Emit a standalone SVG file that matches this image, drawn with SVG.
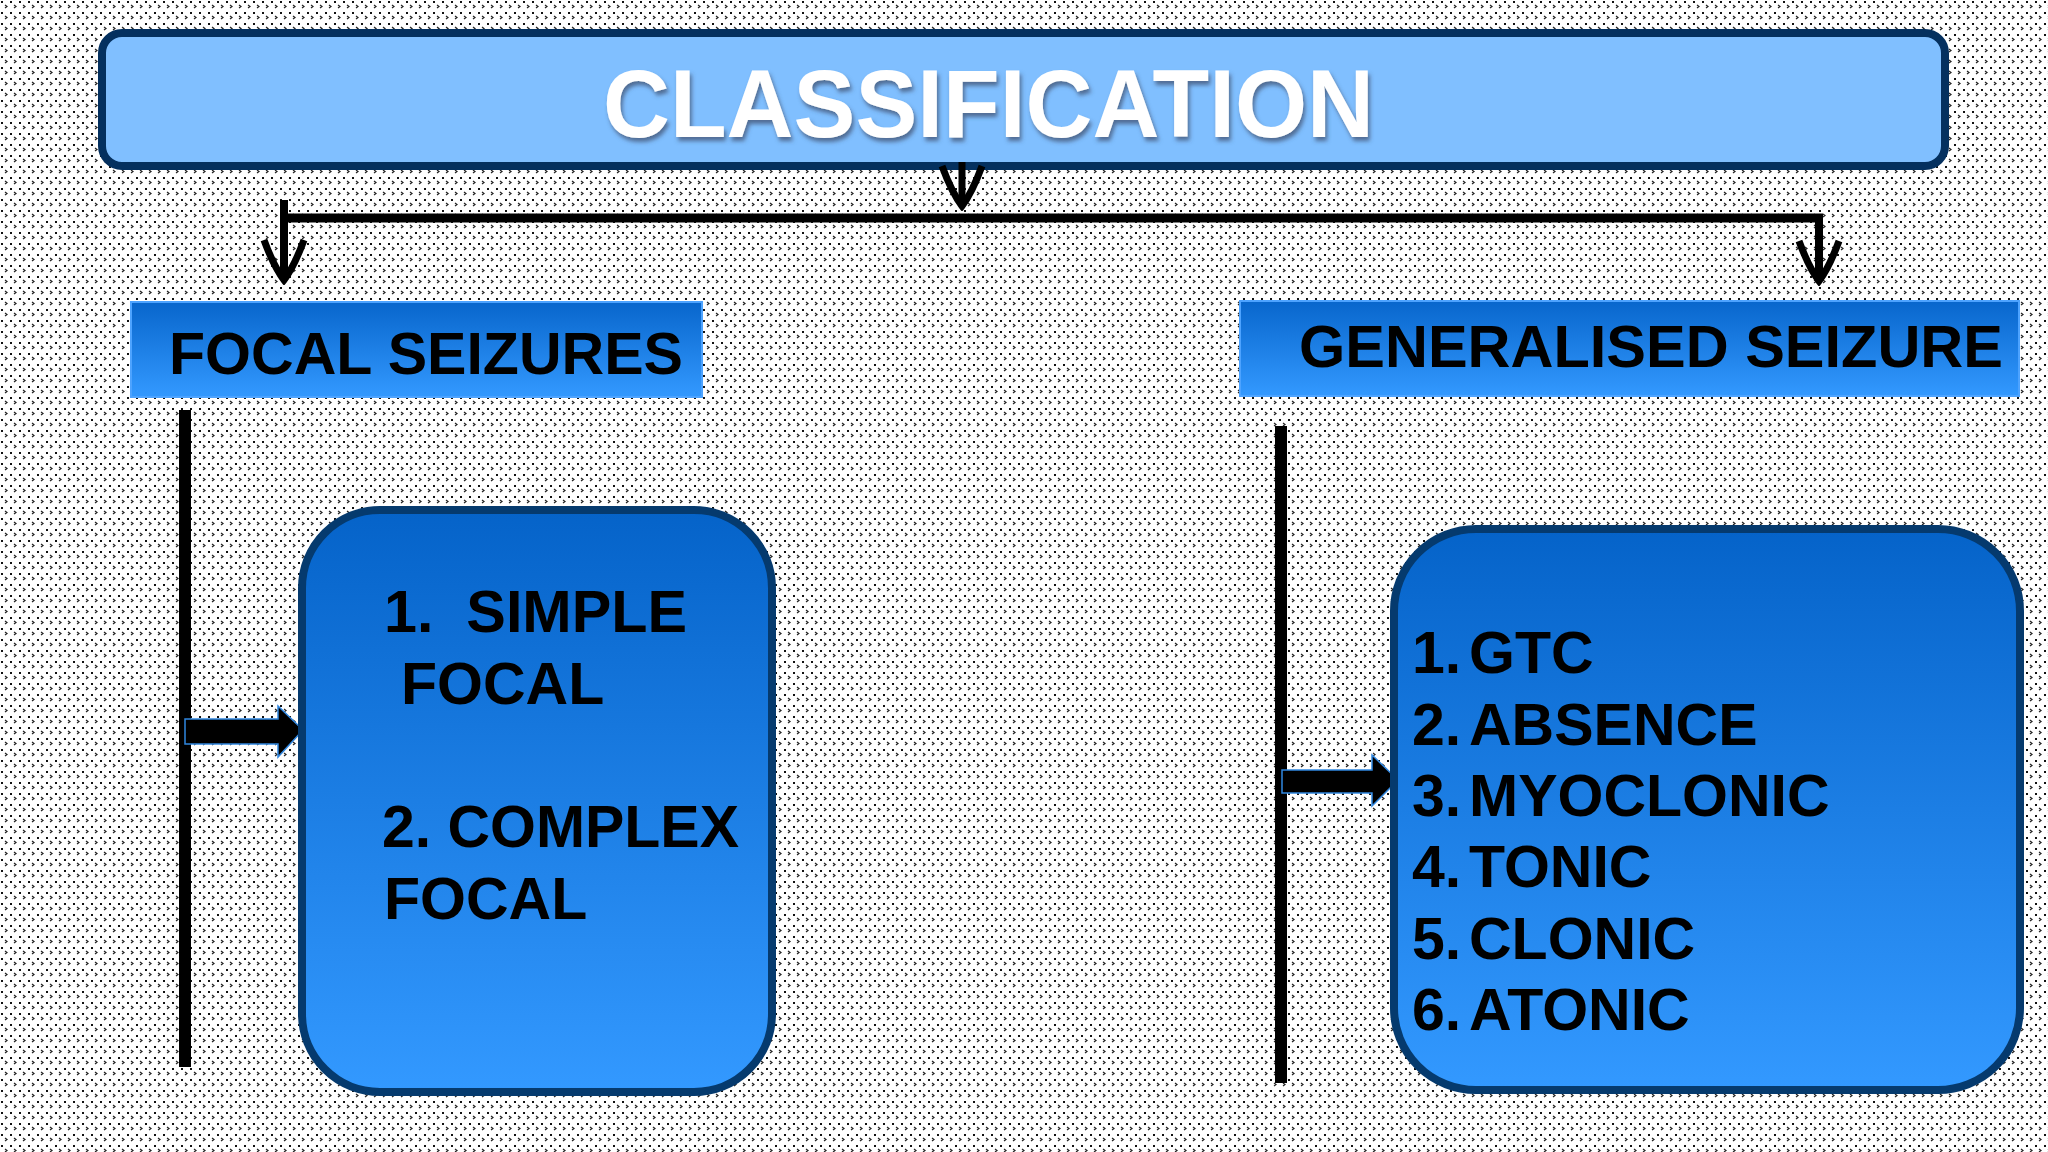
<svg xmlns="http://www.w3.org/2000/svg" width="2048" height="1152" viewBox="0 0 2048 1152">
<defs>
<pattern id="bgpat" x="0" y="0" width="9" height="11" patternUnits="userSpaceOnUse">
<rect width="9" height="11" fill="#ffffff"/>
<rect x="1" y="1" width="2" height="2" fill="#111"/>
<path d="M5,5 L7,6.5 L5,8" fill="none" stroke="#222" stroke-width="1.2"/>
</pattern>
<linearGradient id="boxgrad" x1="0" y1="0" x2="0" y2="1">
<stop offset="0" stop-color="#0563c9"/>
<stop offset="1" stop-color="#3399ff"/>
</linearGradient>
<linearGradient id="hdrgrad" x1="0" y1="0" x2="0" y2="1">
<stop offset="0" stop-color="#0866cc"/>
<stop offset="1" stop-color="#3399ff"/>
</linearGradient>
<filter id="shadow" x="-5%" y="-20%" width="110%" height="150%">
<feDropShadow dx="2" dy="4" stdDeviation="2" flood-color="#3a4a66" flood-opacity="0.7"/>
</filter>
<marker id="openhead" viewBox="0 0 48 48" refX="43" refY="24" markerWidth="48" markerHeight="48" markerUnits="userSpaceOnUse" orient="auto">
<path d="M3,4 Q30,14 43,24 Q30,34 3,44" fill="none" stroke="#000" stroke-width="7" stroke-linejoin="miter"/>
</marker>
</defs>
<style>
.t{font-family:"Liberation Sans",Arial,sans-serif;font-weight:bold;fill:#000;}
.hdr{fill:url(#hdrgrad);stroke:#4da3ff;stroke-width:2;}
.box{fill:url(#boxgrad);stroke:#053a6e;stroke-width:8;}
.conn{stroke:#000;fill:none;}
.blk{fill:#000;stroke:#2f86e0;stroke-width:1.5;}
.bar{fill:#000;}
</style>
<rect width="2048" height="1152" fill="url(#bgpat)"/>

<g id="classification">
<rect x="102" y="33" width="1843" height="133" rx="20" ry="20" fill="#80bfff" stroke="#04305f" stroke-width="8"/>
<text x="603" y="137" class="t" font-size="96" style="fill:#ffffff" textLength="771" lengthAdjust="spacingAndGlyphs" filter="url(#shadow)">CLASSIFICATION</text>
</g>

<g id="connectors">
<line class="conn" x1="962" y1="162" x2="962" y2="206" stroke-width="7" marker-end="url(#openhead)"/>
<line class="conn" x1="280" y1="218" x2="1823" y2="218" stroke-width="9"/>
<line class="conn" x1="284" y1="200" x2="284" y2="280" stroke-width="8" marker-end="url(#openhead)"/>
<line class="conn" x1="1819" y1="214" x2="1819" y2="281" stroke-width="8" marker-end="url(#openhead)"/>
<rect class="bar" x="179" y="410" width="12" height="657"/>
<rect class="bar" x="1275" y="426" width="12" height="657"/>
<path class="blk" d="M185,719 L278,719 L278,706 L303,730 L278,757 L278,744 L185,744 Z"/>
<path class="blk" d="M1282,770 L1372,770 L1372,755 L1398,780 L1372,806 L1372,793 L1282,793 Z"/>
</g>

<g id="focal-seizures">
<rect class="hdr" x="131" y="302" width="571" height="95"/>
<text class="t" x="169" y="374" font-size="59" textLength="514" lengthAdjust="spacingAndGlyphs">FOCAL SEIZURES</text>
</g>

<g id="generalised-seizure">
<rect class="hdr" x="1240" y="301" width="779" height="95"/>
<text class="t" x="1299" y="367" font-size="59" textLength="704" lengthAdjust="spacingAndGlyphs">GENERALISED SEIZURE</text>
</g>

<g id="focal-types">
<rect class="box" x="302" y="510" width="470" height="582" rx="78" ry="78"/>
<text class="t" x="384" y="632" font-size="59" xml:space="preserve" textLength="303" lengthAdjust="spacingAndGlyphs">1.  SIMPLE</text>
<text class="t" x="401" y="704" font-size="59">FOCAL</text>
<text class="t" x="382" y="847" font-size="59" textLength="357" lengthAdjust="spacingAndGlyphs">2. COMPLEX</text>
<text class="t" x="384" y="919" font-size="59">FOCAL</text>
</g>

<g id="generalised-types">
<rect class="box" x="1394" y="529" width="626" height="561" rx="82" ry="82"/>
<g class="t" font-size="59">
<text x="1412" y="673">1.</text><text x="1469" y="673">GTC</text>
<text x="1412" y="745">2.</text><text x="1469" y="745">ABSENCE</text>
<text x="1412" y="816">3.</text><text x="1469" y="816">MYOCLONIC</text>
<text x="1412" y="887">4.</text><text x="1469" y="887">TONIC</text>
<text x="1412" y="959">5.</text><text x="1469" y="959">CLONIC</text>
<text x="1412" y="1030">6.</text><text x="1469" y="1030">ATONIC</text>
</g>
</g>
</svg>
